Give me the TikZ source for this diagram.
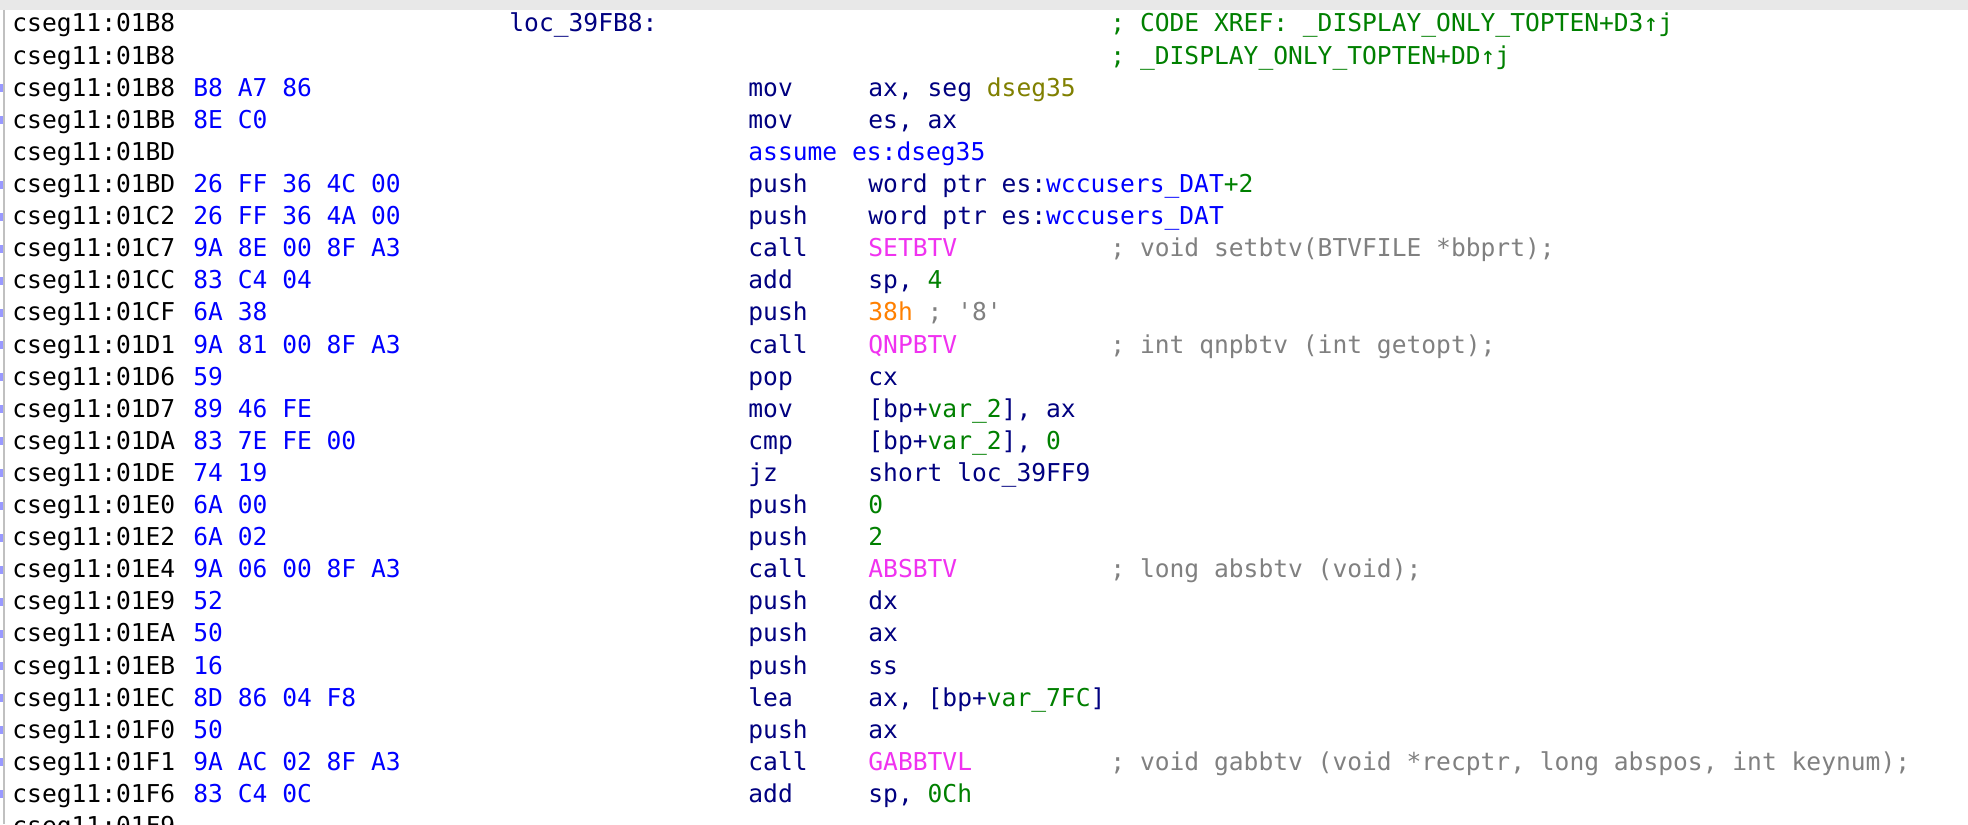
\documentclass[tikz,border=0pt]{standalone}
\usepackage{fontspec}
\newfontfamily\monof{DejaVu Sans Mono}
\definecolor{addrc}{RGB}{0,0,0}
\definecolor{bytec}{RGB}{0,0,255}
\definecolor{navyc}{RGB}{0,0,128}
\definecolor{olivec}{RGB}{128,128,0}
\definecolor{greenc}{RGB}{0,128,0}
\definecolor{orangec}{RGB}{255,128,0}
\definecolor{magc}{RGB}{240,50,240}
\definecolor{greyc}{RGB}{128,128,128}
\definecolor{stripc}{RGB}{232,232,232}
\tikzset{t/.style={anchor=base west,inner sep=0pt,font=\monof\fontsize{12.3}{14}\selectfont}}
\newcommand\Row[6]{%
  \pgfmathsetmacro\yy{32+32.1*#1}%
  \node[t,addrc] (a#1) at (12,\yy) {cseg11:#2};
  \node[t,bytec] (b#1) at (193,\yy) {#3};
  \node[t,navyc] (m#1) at (748,\yy) {#4};
  \node[t,navyc] (o#1) at (868,\yy) {#5};
  \node[t,greyc] (c#1) at (1110,\yy) {#6};
}
\begin{document}
\begin{tikzpicture}[x=0.5pt,y=-0.5pt]
\useasboundingbox (0,0) rectangle (1968,824);
\fill[white] (0,0) rectangle (1968,824);
\fill[stripc] (0,0) rectangle (1968,10);
\draw[greyc!50,line width=0.6pt] (4,10) -- (4,824);
\foreach \i in {2,3,5,6,7,8,9,10,11,12,13,14,15,16,17,18,19,20,21,22,23,24}{
  \fill[bytec!40] (0,{24+32.1*\i-4}) rectangle (3,{24+32.1*\i+4});}
\Row{0}{01B8}{}{}{}{}
\node[t,navyc] (lbl) at (509,32) {loc\_39FB8:};
\node[t,greenc] (x0) at (1110,32) {; CODE XREF: \_DISPLAY\_ONLY\_TOPTEN+D3↑j};
\Row{1}{01B8}{}{}{}{}
\node[t,greenc] (x1) at (1110,{32+32.1}) {; \_DISPLAY\_ONLY\_TOPTEN+DD↑j};
\Row{2}{01B8}{B8 A7 86}{mov}{ax, seg \textcolor{olivec}{dseg35}}{}
\Row{3}{01BB}{8E C0}{mov}{es, ax}{}
\Row{4}{01BD}{}{\textcolor{bytec}{assume es:dseg35}}{}{}
\Row{5}{01BD}{26 FF 36 4C 00}{push}{word ptr es:\textcolor{bytec}{wccusers\_DAT}\textcolor{greenc}{+2}}{}
\Row{6}{01C2}{26 FF 36 4A 00}{push}{word ptr es:\textcolor{bytec}{wccusers\_DAT}}{}
\Row{7}{01C7}{9A 8E 00 8F A3}{call}{\textcolor{magc}{SETBTV}}{; void setbtv(BTVFILE *bbprt);}
\Row{8}{01CC}{83 C4 04}{add}{sp, \textcolor{greenc}{4}}{}
\Row{9}{01CF}{6A 38}{push}{\textcolor{orangec}{38h}\ \textcolor{greyc}{; '8'}}{}
\Row{10}{01D1}{9A 81 00 8F A3}{call}{\textcolor{magc}{QNPBTV}}{; int qnpbtv (int getopt);}
\Row{11}{01D6}{59}{pop}{cx}{}
\Row{12}{01D7}{89 46 FE}{mov}{[bp+\textcolor{greenc}{var\_2}], ax}{}
\Row{13}{01DA}{83 7E FE 00}{cmp}{[bp+\textcolor{greenc}{var\_2}], \textcolor{greenc}{0}}{}
\Row{14}{01DE}{74 19}{jz}{short loc\_39FF9}{}
\Row{15}{01E0}{6A 00}{push}{\textcolor{greenc}{0}}{}
\Row{16}{01E2}{6A 02}{push}{\textcolor{greenc}{2}}{}
\Row{17}{01E4}{9A 06 00 8F A3}{call}{\textcolor{magc}{ABSBTV}}{; long absbtv (void);}
\Row{18}{01E9}{52}{push}{dx}{}
\Row{19}{01EA}{50}{push}{ax}{}
\Row{20}{01EB}{16}{push}{ss}{}
\Row{21}{01EC}{8D 86 04 F8}{lea}{ax, [bp+\textcolor{greenc}{var\_7FC}]}{}
\Row{22}{01F0}{50}{push}{ax}{}
\Row{23}{01F1}{9A AC 02 8F A3}{call}{\textcolor{magc}{GABBTVL}}{; void gabbtv (void *recptr, long abspos, int keynum);}
\Row{24}{01F6}{83 C4 0C}{add}{sp, \textcolor{greenc}{0Ch}}{}
\Row{25}{01F9}{}{}{}{}
\end{tikzpicture}
\end{document}
